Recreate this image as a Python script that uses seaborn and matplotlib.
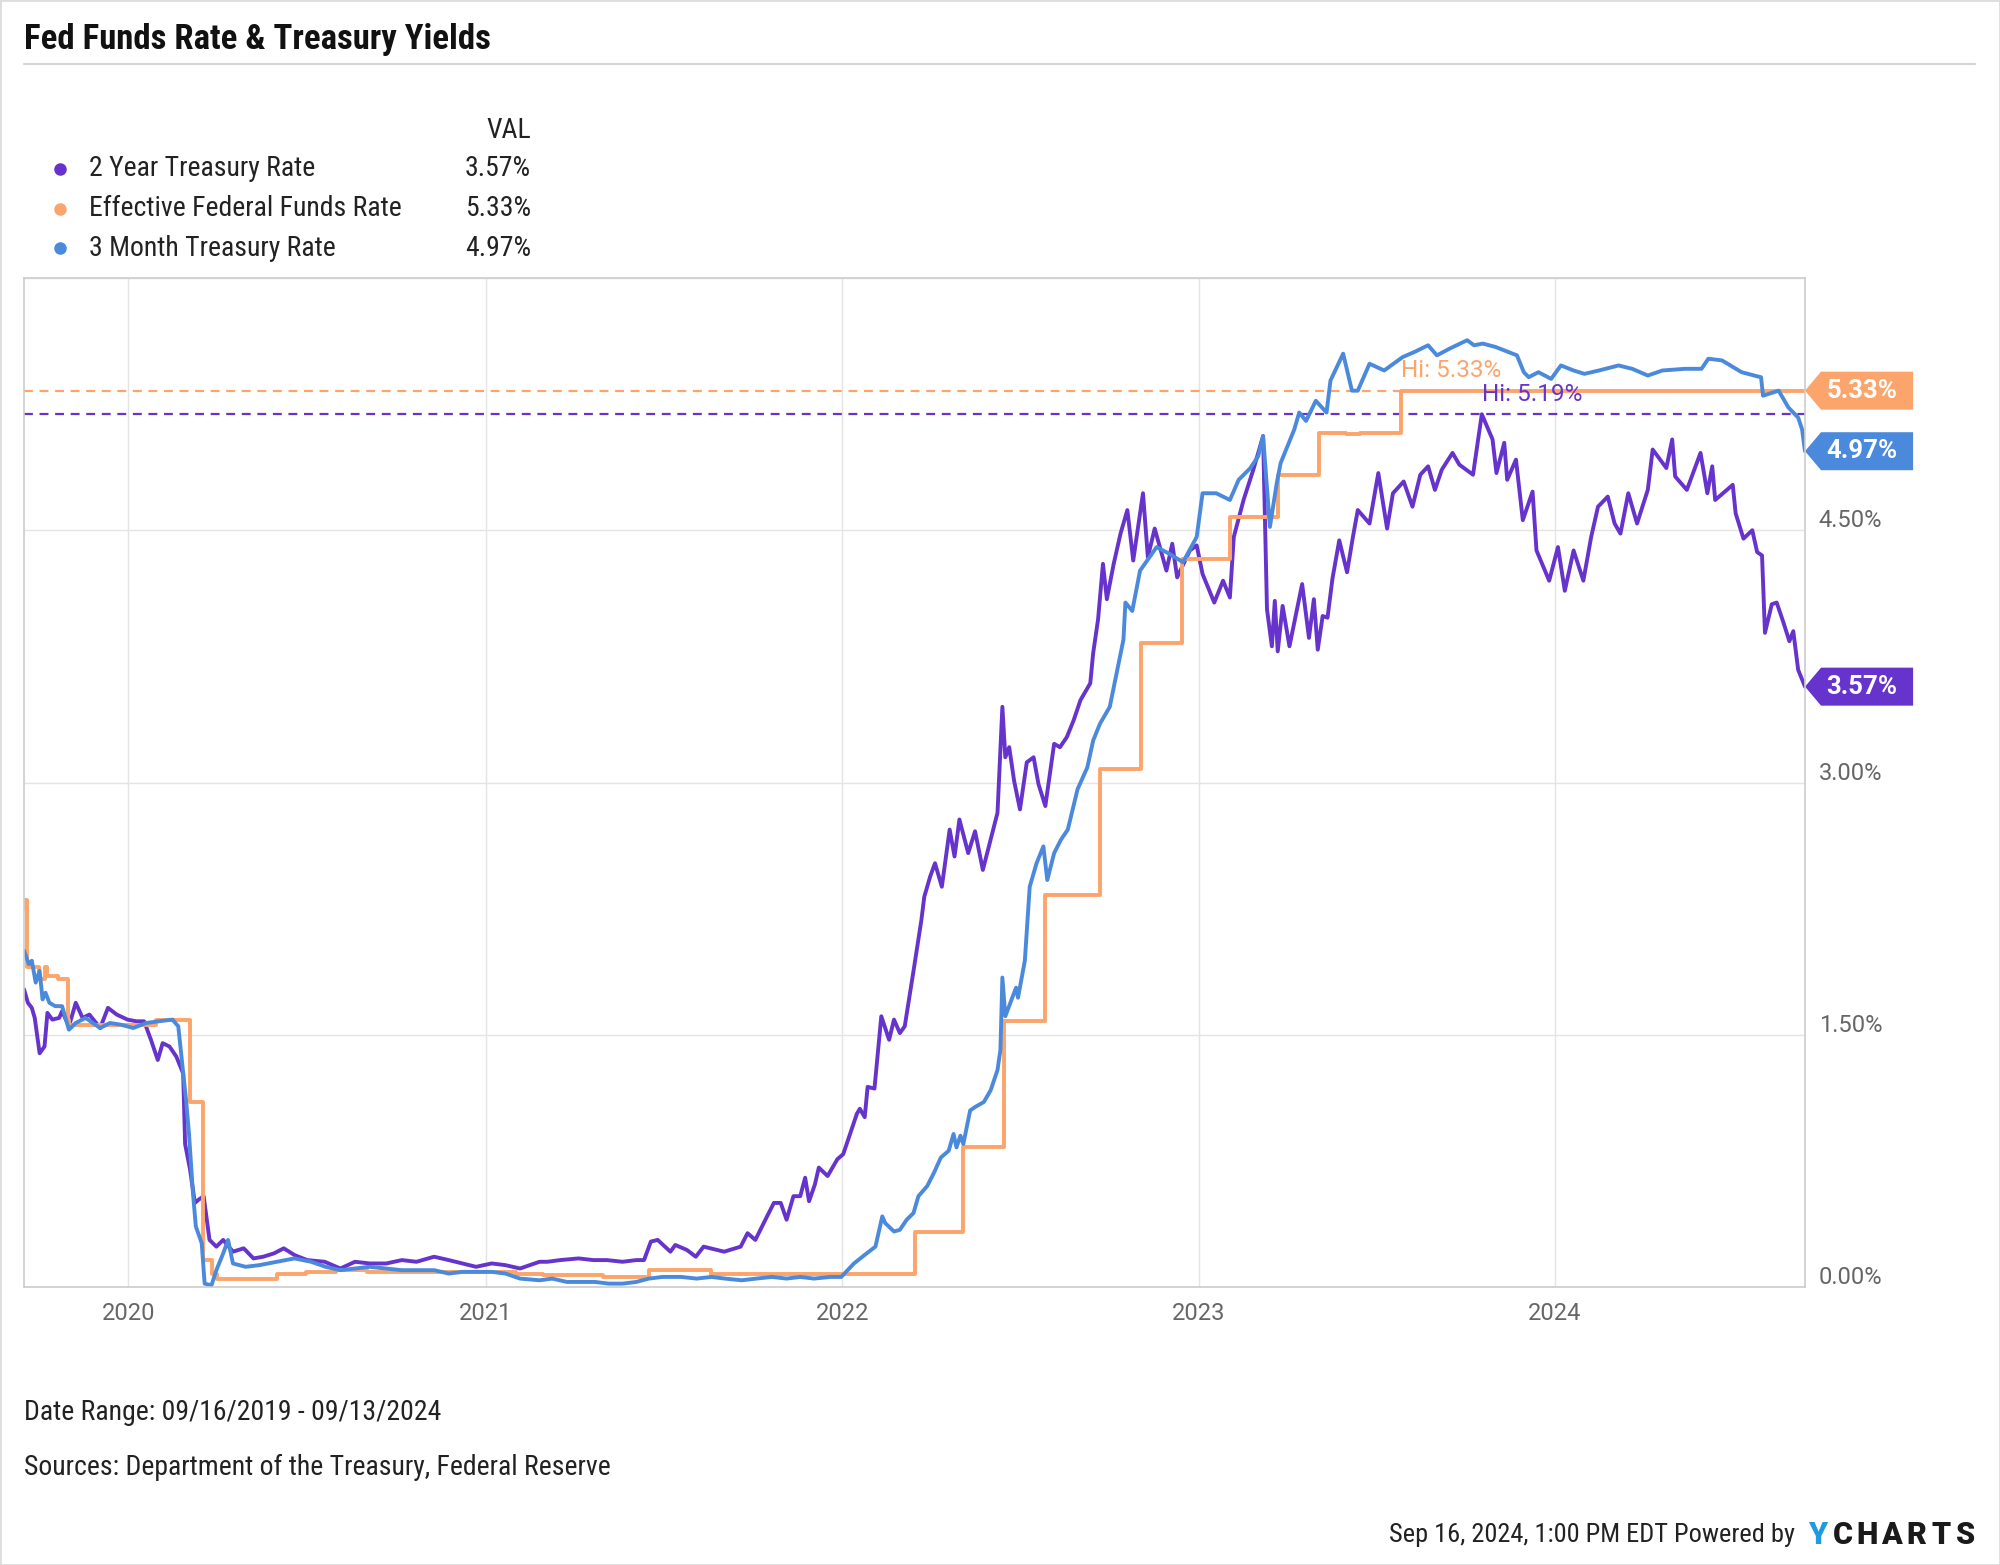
import matplotlib
matplotlib.use("Agg")
import matplotlib.pyplot as plt
import matplotlib.dates as mdates
from matplotlib.patches import Polygon, Rectangle
from matplotlib.lines import Line2D
from matplotlib.transforms import ScaledTranslation
import pandas as pd
import seaborn as sns

# 2 Year Treasury Rate (%)
two_year = [
    ("2019-09-16", 1.77), ("2019-09-20", 1.69), ("2019-09-24", 1.66), ("2019-09-27", 1.60),
    ("2019-10-02", 1.39), ("2019-10-07", 1.43), ("2019-10-10", 1.63), ("2019-10-15", 1.59),
    ("2019-10-22", 1.60), ("2019-10-25", 1.64), ("2019-11-01", 1.55), ("2019-11-08", 1.69),
    ("2019-11-15", 1.60), ("2019-11-22", 1.62), ("2019-12-03", 1.54), ("2019-12-11", 1.66),
    ("2019-12-20", 1.62), ("2019-12-31", 1.59), ("2020-01-09", 1.58), ("2020-01-17", 1.58),
    ("2020-01-24", 1.47), ("2020-01-31", 1.35), ("2020-02-05", 1.45), ("2020-02-12", 1.43),
    ("2020-02-19", 1.37), ("2020-02-26", 1.27), ("2020-02-28", 0.85), ("2020-03-04", 0.70),
    ("2020-03-09", 0.50), ("2020-03-13", 0.52), ("2020-03-18", 0.54), ("2020-03-24", 0.28),
    ("2020-03-31", 0.24), ("2020-04-07", 0.28), ("2020-04-17", 0.21), ("2020-04-28", 0.23),
    ("2020-05-08", 0.17), ("2020-05-18", 0.18), ("2020-05-29", 0.20), ("2020-06-08", 0.23),
    ("2020-06-19", 0.19), ("2020-07-02", 0.16), ("2020-07-20", 0.15), ("2020-08-05", 0.11),
    ("2020-08-20", 0.15), ("2020-09-04", 0.14), ("2020-09-21", 0.14), ("2020-10-07", 0.16),
    ("2020-10-22", 0.15), ("2020-11-09", 0.18), ("2020-11-24", 0.16), ("2020-12-08", 0.14),
    ("2020-12-22", 0.12), ("2021-01-07", 0.14), ("2021-01-21", 0.13), ("2021-02-05", 0.11),
    ("2021-02-25", 0.15), ("2021-03-05", 0.15), ("2021-03-18", 0.16), ("2021-04-06", 0.17),
    ("2021-04-21", 0.16), ("2021-05-05", 0.16), ("2021-05-21", 0.15), ("2021-06-04", 0.16),
    ("2021-06-12", 0.16), ("2021-06-19", 0.27), ("2021-06-26", 0.28), ("2021-07-09", 0.21),
    ("2021-07-14", 0.25), ("2021-07-26", 0.22), ("2021-08-04", 0.18), ("2021-08-12", 0.24),
    ("2021-09-02", 0.21), ("2021-09-19", 0.24), ("2021-09-26", 0.32), ("2021-10-04", 0.28),
    ("2021-10-16", 0.42), ("2021-10-23", 0.50), ("2021-10-30", 0.50), ("2021-11-05", 0.40),
    ("2021-11-12", 0.54), ("2021-11-19", 0.54), ("2021-11-24", 0.65), ("2021-11-28", 0.51),
    ("2021-12-04", 0.61), ("2021-12-08", 0.71), ("2021-12-17", 0.66), ("2021-12-27", 0.76),
    ("2022-01-02", 0.79), ("2022-01-09", 0.91), ("2022-01-16", 1.03), ("2022-01-19", 1.06),
    ("2022-01-24", 1.01), ("2022-01-27", 1.19), ("2022-02-03", 1.18), ("2022-02-10", 1.61),
    ("2022-02-18", 1.47), ("2022-02-23", 1.59), ("2022-03-01", 1.51), ("2022-03-06", 1.55),
    ("2022-03-15", 1.88), ("2022-03-23", 2.18), ("2022-03-26", 2.32), ("2022-04-01", 2.44),
    ("2022-04-06", 2.52), ("2022-04-13", 2.38), ("2022-04-21", 2.72), ("2022-04-26", 2.56),
    ("2022-05-01", 2.78), ("2022-05-10", 2.58), ("2022-05-17", 2.71), ("2022-05-25", 2.48),
    ("2022-06-02", 2.66), ("2022-06-09", 2.82), ("2022-06-14", 3.45), ("2022-06-17", 3.15),
    ("2022-06-21", 3.21), ("2022-06-26", 3.01), ("2022-07-02", 2.84), ("2022-07-09", 3.12),
    ("2022-07-16", 3.15), ("2022-07-21", 2.99), ("2022-07-28", 2.86), ("2022-08-06", 3.23),
    ("2022-08-12", 3.21), ("2022-08-19", 3.27), ("2022-08-26", 3.37), ("2022-09-02", 3.49),
    ("2022-09-12", 3.59), ("2022-09-15", 3.77), ("2022-09-20", 3.97), ("2022-09-25", 4.30),
    ("2022-09-29", 4.09), ("2022-10-06", 4.30), ("2022-10-13", 4.48), ("2022-10-20", 4.62),
    ("2022-10-26", 4.32), ("2022-11-05", 4.72), ("2022-11-10", 4.34), ("2022-11-17", 4.51),
    ("2022-11-29", 4.26), ("2022-12-05", 4.42), ("2022-12-10", 4.22), ("2022-12-23", 4.38),
    ("2022-12-30", 4.41), ("2023-01-05", 4.24), ("2023-01-17", 4.07), ("2023-01-26", 4.20),
    ("2023-02-02", 4.10), ("2023-02-06", 4.46), ("2023-02-16", 4.68), ("2023-02-26", 4.86),
    ("2023-03-07", 5.04), ("2023-03-08", 5.06), ("2023-03-12", 4.03), ("2023-03-17", 3.81),
    ("2023-03-20", 4.08), ("2023-03-23", 3.78), ("2023-03-28", 4.05), ("2023-04-04", 3.81),
    ("2023-04-17", 4.18), ("2023-04-24", 3.86), ("2023-04-29", 4.09), ("2023-05-03", 3.79),
    ("2023-05-08", 3.99), ("2023-05-13", 3.98), ("2023-05-18", 4.21), ("2023-05-25", 4.44),
    ("2023-06-02", 4.25), ("2023-06-08", 4.46), ("2023-06-13", 4.62), ("2023-06-25", 4.54),
    ("2023-07-04", 4.84), ("2023-07-13", 4.51), ("2023-07-19", 4.72), ("2023-07-30", 4.79),
    ("2023-08-08", 4.64), ("2023-08-16", 4.83), ("2023-08-24", 4.88), ("2023-08-31", 4.74),
    ("2023-09-07", 4.86), ("2023-09-18", 4.96), ("2023-09-25", 4.89), ("2023-10-09", 4.83),
    ("2023-10-18", 5.19), ("2023-10-29", 5.04), ("2023-11-02", 4.84), ("2023-11-10", 5.02),
    ("2023-11-13", 4.80), ("2023-11-22", 4.92), ("2023-11-29", 4.56), ("2023-12-09", 4.73),
    ("2023-12-13", 4.38), ("2023-12-26", 4.20), ("2024-01-04", 4.40), ("2024-01-11", 4.14),
    ("2024-01-20", 4.38), ("2024-01-30", 4.20), ("2024-02-07", 4.46), ("2024-02-14", 4.64),
    ("2024-02-24", 4.70), ("2024-03-02", 4.54), ("2024-03-08", 4.48), ("2024-03-16", 4.72),
    ("2024-03-25", 4.54), ("2024-04-05", 4.74), ("2024-04-10", 4.98), ("2024-04-24", 4.87),
    ("2024-04-30", 5.04), ("2024-05-03", 4.82), ("2024-05-15", 4.74), ("2024-05-29", 4.96),
    ("2024-06-05", 4.72), ("2024-06-10", 4.88), ("2024-06-13", 4.68), ("2024-07-01", 4.77),
    ("2024-07-04", 4.60), ("2024-07-12", 4.45), ("2024-07-21", 4.50), ("2024-07-26", 4.37),
    ("2024-07-31", 4.35), ("2024-08-03", 3.89), ("2024-08-10", 4.06), ("2024-08-15", 4.07),
    ("2024-08-22", 3.95), ("2024-08-28", 3.84), ("2024-09-01", 3.90), ("2024-09-06", 3.67),
    ("2024-09-13", 3.57),
]

# Effective Federal Funds Rate (%), level changes only
fed_funds = [
    ("2019-09-16", 2.25), ("2019-09-17", 2.30), ("2019-09-19", 1.90), ("2019-10-01", 1.83),
    ("2019-10-08", 1.90), ("2019-10-10", 1.85), ("2019-10-21", 1.83), ("2019-10-31", 1.59),
    ("2019-11-01", 1.56), ("2020-01-29", 1.59), ("2020-03-04", 1.10), ("2020-03-17", 0.16),
    ("2020-03-27", 0.08), ("2020-04-01", 0.05), ("2020-06-01", 0.08), ("2020-07-01", 0.09),
    ("2020-08-01", 0.10), ("2020-09-01", 0.09), ("2021-02-01", 0.08), ("2021-03-01", 0.07),
    ("2021-05-01", 0.06), ("2021-06-17", 0.10), ("2021-08-20", 0.08), ("2022-03-17", 0.33),
    ("2022-05-05", 0.83), ("2022-06-16", 1.58), ("2022-07-28", 2.33), ("2022-09-22", 3.08),
    ("2022-11-03", 3.83), ("2022-12-15", 4.33), ("2023-02-02", 4.58), ("2023-03-23", 4.83),
    ("2023-05-04", 5.08), ("2023-06-01", 5.07), ("2023-06-15", 5.08), ("2023-07-27", 5.33),
    ("2024-09-13", 5.33),
]

# 3 Month Treasury Rate (%)
three_month = [
    ("2019-09-16", 2.00), ("2019-09-21", 1.92), ("2019-09-24", 1.94), ("2019-09-28", 1.81),
    ("2019-10-02", 1.88), ("2019-10-05", 1.71), ("2019-10-08", 1.75), ("2019-10-12", 1.69),
    ("2019-10-18", 1.67), ("2019-10-25", 1.67), ("2019-11-01", 1.53), ("2019-11-08", 1.57),
    ("2019-11-18", 1.60), ("2019-12-03", 1.54), ("2019-12-13", 1.57), ("2019-12-24", 1.56),
    ("2020-01-06", 1.54), ("2020-01-19", 1.57), ("2020-02-01", 1.58), ("2020-02-15", 1.59),
    ("2020-02-21", 1.55), ("2020-02-29", 1.11), ("2020-03-03", 0.91), ("2020-03-07", 0.56),
    ("2020-03-10", 0.36), ("2020-03-16", 0.26), ("2020-03-19", 0.02), ("2020-03-26", 0.01),
    ("2020-03-31", 0.10), ("2020-04-07", 0.20), ("2020-04-12", 0.28), ("2020-04-17", 0.14),
    ("2020-04-30", 0.12), ("2020-05-14", 0.13), ("2020-06-01", 0.15), ("2020-06-19", 0.17),
    ("2020-07-06", 0.15), ("2020-07-21", 0.12), ("2020-08-05", 0.10), ("2020-08-20", 0.11),
    ("2020-09-04", 0.12), ("2020-09-21", 0.11), ("2020-10-07", 0.10), ("2020-10-22", 0.10),
    ("2020-11-09", 0.10), ("2020-11-24", 0.08), ("2020-12-08", 0.09), ("2020-12-22", 0.09),
    ("2021-01-07", 0.09), ("2021-01-21", 0.08), ("2021-02-05", 0.05), ("2021-02-25", 0.04),
    ("2021-03-10", 0.05), ("2021-03-25", 0.03), ("2021-04-09", 0.03), ("2021-04-23", 0.03),
    ("2021-05-07", 0.02), ("2021-05-21", 0.02), ("2021-06-04", 0.03), ("2021-06-17", 0.05),
    ("2021-07-01", 0.06), ("2021-07-20", 0.06), ("2021-08-05", 0.05), ("2021-08-20", 0.06),
    ("2021-09-03", 0.05), ("2021-09-20", 0.04), ("2021-10-05", 0.05), ("2021-10-21", 0.06),
    ("2021-11-05", 0.05), ("2021-11-19", 0.06), ("2021-12-03", 0.05), ("2021-12-20", 0.06),
    ("2021-12-31", 0.06), ("2022-01-13", 0.14), ("2022-01-26", 0.20), ("2022-02-04", 0.24),
    ("2022-02-11", 0.42), ("2022-02-14", 0.38), ("2022-02-23", 0.33), ("2022-03-01", 0.34),
    ("2022-03-08", 0.40), ("2022-03-15", 0.44), ("2022-03-20", 0.54), ("2022-03-29", 0.60),
    ("2022-04-05", 0.68), ("2022-04-12", 0.77), ("2022-04-20", 0.81), ("2022-04-25", 0.91),
    ("2022-04-28", 0.83), ("2022-05-02", 0.90), ("2022-05-05", 0.85), ("2022-05-12", 1.05),
    ("2022-05-17", 1.07), ("2022-05-26", 1.10), ("2022-06-02", 1.17), ("2022-06-09", 1.29),
    ("2022-06-12", 1.41), ("2022-06-14", 1.84), ("2022-06-17", 1.61), ("2022-06-28", 1.78),
    ("2022-06-30", 1.72), ("2022-07-07", 1.94), ("2022-07-12", 2.38), ("2022-07-19", 2.52),
    ("2022-07-26", 2.62), ("2022-07-30", 2.42), ("2022-08-06", 2.58), ("2022-08-13", 2.66),
    ("2022-08-20", 2.72), ("2022-08-30", 2.96), ("2022-09-09", 3.09), ("2022-09-15", 3.25),
    ("2022-09-22", 3.35), ("2022-10-02", 3.45), ("2022-10-09", 3.65), ("2022-10-16", 3.85),
    ("2022-10-18", 4.07), ("2022-10-25", 4.02), ("2022-11-02", 4.26), ("2022-11-19", 4.40),
    ("2022-12-02", 4.36), ("2022-12-16", 4.31), ("2022-12-30", 4.46), ("2023-01-05", 4.72),
    ("2023-01-19", 4.72), ("2023-02-02", 4.68), ("2023-02-11", 4.80), ("2023-02-23", 4.87),
    ("2023-03-03", 4.94), ("2023-03-08", 5.06), ("2023-03-15", 4.52), ("2023-03-22", 4.78),
    ("2023-03-26", 4.90), ("2023-04-09", 5.10), ("2023-04-14", 5.20), ("2023-04-21", 5.15),
    ("2023-05-01", 5.27), ("2023-05-12", 5.20), ("2023-05-16", 5.39), ("2023-05-29", 5.55),
    ("2023-06-07", 5.33), ("2023-06-13", 5.33), ("2023-06-25", 5.49), ("2023-07-10", 5.45),
    ("2023-07-29", 5.53), ("2023-08-10", 5.56), ("2023-08-24", 5.60), ("2023-09-02", 5.54),
    ("2023-09-15", 5.58), ("2023-10-03", 5.63), ("2023-10-10", 5.60), ("2023-10-19", 5.61),
    ("2023-11-01", 5.59), ("2023-11-23", 5.54), ("2023-11-30", 5.44), ("2023-12-05", 5.41),
    ("2023-12-15", 5.44), ("2023-12-28", 5.40), ("2024-01-07", 5.48), ("2024-01-20", 5.45),
    ("2024-01-31", 5.43), ("2024-02-15", 5.45), ("2024-03-06", 5.48), ("2024-03-20", 5.46),
    ("2024-04-05", 5.42), ("2024-04-20", 5.45), ("2024-05-13", 5.46), ("2024-05-30", 5.46),
    ("2024-06-06", 5.52), ("2024-06-20", 5.51), ("2024-07-10", 5.44), ("2024-07-23", 5.42),
    ("2024-07-30", 5.41), ("2024-08-01", 5.30), ("2024-08-17", 5.33), ("2024-08-27", 5.23),
    ("2024-09-06", 5.17), ("2024-09-10", 5.10), ("2024-09-13", 4.97),
]

series_names = ["2 Year Treasury Rate", "Effective Federal Funds Rate", "3 Month Treasury Rate"]
series_colors = ["#6633cc", "#fba46b", "#4a89dc"]
year_labels = ["2020", "2021", "2022", "2023", "2024"]
y_ticks = [0.0, 1.5, 3.0, 4.5, 6.0]
y_labels = ["0.00%", "1.50%", "3.00%", "4.50%", ""]

sns.set_style("white")
plt.rcParams["font.family"] = ["Roboto", "DejaVu Sans"]
COND = ["Roboto Condensed", "Roboto", "DejaVu Sans"]

W, H = 2000, 1565
fig = plt.figure(figsize=(20, 15.65), dpi=100)


def fx(px):
    return px / W


def fy(py):
    return 1 - py / H


ax = fig.add_axes([fx(24), fy(1287), fx(1805) - fx(24), fy(278) - fy(1287)])

frames = []
for data in [two_year, fed_funds, three_month]:
    df = pd.DataFrame(data, columns=["date", "rate"])
    df["date"] = pd.to_datetime(df["date"])
    frames.append(df)

# lines: fed funds is a step series
for df, color, name in zip(frames, series_colors, series_names):
    kw = {"drawstyle": "steps-post"} if name.startswith("Effective") else {}
    sns.lineplot(data=df, x="date", y="rate", ax=ax, color=color, lw=2.8,
                 estimator=None, sort=False, legend=False, **kw)

ax.set_xlim(frames[0]["date"].iloc[0], frames[0]["date"].iloc[-1])
ax.set_ylim(0, 6)
ax.set_xlabel("")
ax.set_ylabel("")

# axes styling
ax.set_axisbelow(True)
ax.grid(True, color="#e4e4e4", lw=1)
for sp in ax.spines.values():
    sp.set_color("#cccccc")
    sp.set_linewidth(1.2)

ax.set_xticks([pd.Timestamp(f"{y}-01-01") for y in year_labels])
ax.set_xticklabels(year_labels)
ax.tick_params(axis="x", length=0, pad=11, labelsize=17, labelcolor="#666666")

ax.yaxis.tick_right()
ax.set_yticks(y_ticks)
ax.set_yticklabels(y_labels)
ax.tick_params(axis="y", length=0, pad=10, labelsize=17, labelcolor="#666666")
for lbl in ax.get_yticklabels():
    lbl.set_va("baseline")
    lbl.set_transform(lbl.get_transform() + ScaledTranslation(0, 2 / 72, fig.dpi_scale_trans))

# high-water marks for 2Y and fed funds
for idx in [1, 0]:
    df = frames[idx]
    hi = df["rate"].max()
    hi_date = df.loc[df["rate"].idxmax(), "date"]
    ax.axhline(hi, color=series_colors[idx], lw=1.6, dashes=(4, 3), zorder=1)
    ax.annotate(f"Hi: {hi:.2f}%", xy=(mdates.date2num(hi_date), hi), xytext=(0, 6),
                textcoords="offset points", ha="left", va="bottom",
                color=series_colors[idx], fontsize=17.5)

# last-value tags on the right
ytr = ax.get_yaxis_transform()
for df, color in zip(frames, series_colors):
    v = df["rate"].iloc[-1]
    h = 0.113
    tag = Polygon([(1, v), (1.009, v + h), (1.0607, v + h), (1.0607, v - h), (1.009, v - h)],
                  closed=True, transform=ytr, clip_on=False, fc=color, ec="none")
    ax.add_patch(tag)
    ax.text(1.032, v, f"{v:.2f}%", transform=ytr, ha="center", va="center",
            color="white", fontweight="bold", fontsize=18.5, clip_on=False)

# title and rule
fig.text(fx(24), fy(40), "Fed Funds Rate & Treasury Yields", fontsize=25,
         fontweight="bold", va="center", family=COND, color="#111111")
fig.add_artist(Line2D([fx(24), fx(1975)], [fy(64), fy(64)], color="#d5d5d5", lw=1.5))

# legend table
TXT = 20
fig.text(fx(531), fy(130), "VAL", ha="right", va="center", fontsize=TXT, family=COND, color="#222222")
for i, (df, color, name) in enumerate(zip(frames, series_colors, series_names)):
    yy = fy(169 + 39.5 * i)
    fig.add_artist(Line2D([fx(60)], [yy], marker="o", ms=8, color=color, mec=color))
    fig.text(fx(89), yy, name, ha="left", va="center", fontsize=TXT, family=COND, color="#222222")
    fig.text(fx(531), yy, f"{df['rate'].iloc[-1]:.2f}%", ha="right", va="center",
             fontsize=TXT, family=COND, color="#222222")

# footer
fig.text(fx(24), fy(1412), "Date Range: 09/16/2019 - 09/13/2024", va="center",
         fontsize=TXT, family=COND, color="#222222")
fig.text(fx(24), fy(1467), "Sources: Department of the Treasury, Federal Reserve", va="center",
         fontsize=TXT, family=COND, color="#222222")
fig.text(fx(1795), fy(1535), "Sep 16, 2024, 1:00 PM EDT Powered by", ha="right", va="center",
         fontsize=19, family=COND, color="#222222")
for i, ch in enumerate("YCHARTS"):
    fig.text(fx(1818 + 24.6 * i), fy(1535), ch, ha="center", va="center", fontsize=22,
             fontweight="heavy", color="#1e9be0" if ch == "Y" else "#1a1a1a")

fig.add_artist(Rectangle((0, 0), 1, 1, transform=fig.transFigure, fill=False,
                         ec="#dddddd", lw=2))

fig.savefig("out.png", dpi=100)
